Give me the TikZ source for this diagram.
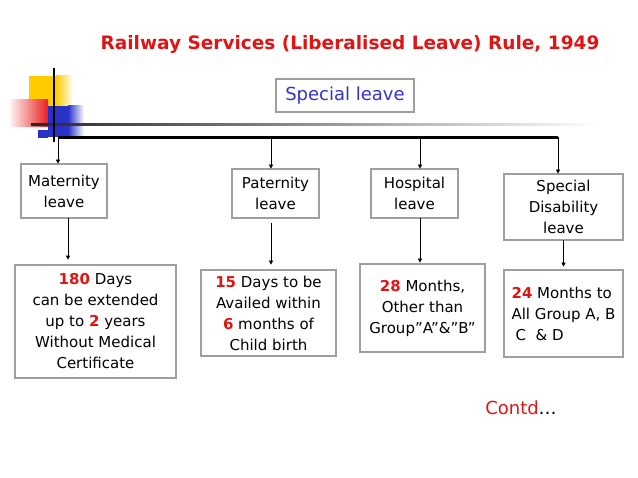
\documentclass[tikz,border=0pt]{standalone}
\usepackage{fontspec}
\setmainfont{DejaVu Sans}
\usepackage{xcolor}
\usepackage{tikz}
\usetikzlibrary{arrows.meta}

\definecolor{rulered}{RGB}{225,20,20}
\definecolor{leaveblue}{RGB}{51,51,204}
\definecolor{sqyellow}{RGB}{255,204,0}
\definecolor{sqblue}{RGB}{40,50,200}
\definecolor{sqred}{RGB}{235,30,30}
\newcommand{\daysnum}[1]{\textcolor{rulered}{\bfseries #1}}

\begin{document}
\begin{tikzpicture}[
  x=1pt, y=-1pt,
  box/.style={draw=black!90, double=gray!75, line width=0.7pt, double distance=1.5pt, inner sep=0pt, align=center, font=\fontsize{15}{21}\selectfont},
  arrow/.style={-{Triangle[length=4pt,width=4pt]}, line width=0.7pt},
  bus/.style={line width=2.3pt}]
\useasboundingbox (0,0) rectangle (638,478);
% corner squares
\fill[sqyellow] (29,76) rectangle (56,106);
\shade[left color=sqyellow, right color=white] (56,76) rectangle (73,106);
\shade[left color=white, right color=sqred] (8,100) rectangle (48,127);
\fill[sqblue] (38,130) rectangle (48,138);
\fill[sqblue] (48,106) rectangle (68,137);
\shade[left color=sqblue, right color=white] (68,106) rectangle (84,137);
\shade[left color=black!85, right color=white] (31,123.2) rectangle (600,125.6);
\draw[line width=2pt] (54,68) -- (54,142);
% title
\node[text=rulered, font=\fontsize{18.5}{22}\selectfont\bfseries] (title) at (350,44) {Railway Services (Liberalised Leave) Rule, 1949};
\node[box, minimum width=138pt, minimum height=33pt, font=\fontsize{18}{22}\selectfont, text=leaveblue] (special) at (345,95.5) {Special leave};
% kinds of leave
\node[box, minimum width=86pt, minimum height=54pt] (maternity) at (64,191) {Maternity\\leave};
\node[box, minimum width=87pt, minimum height=49pt] (paternity) at (275.5,193.5) {Paternity\\leave};
\node[box, minimum width=87pt, minimum height=49pt] (hospital) at (414.5,193.5) {Hospital\\leave};
\node[box, minimum width=119pt, minimum height=66pt] (disability) at (563.5,207) {Special\\Disability\\leave};
% durations
\node[box, minimum width=161pt, minimum height=113pt] (days180) at (95.5,321.5) {\daysnum{180} Days\\can be extended\\up to \daysnum{2} years\\Without Medical\\Certificate};
\node[box, minimum width=135pt, minimum height=86pt] (days15) at (268.5,313) {\daysnum{15} Days to be\\Availed within\\\daysnum{6} months of\\Child birth};
\node[box, minimum width=125pt, minimum height=88pt] (months28) at (422.5,308) {\daysnum{28} Months,\\Other than\\Group”A”\&”B”};
\node[box, minimum width=119pt, minimum height=87pt, align=left] (months24) at (563.5,313.5) {\daysnum{24} Months to\\All Group A, B\\\hspace*{4pt}C\ \ \& D};
\node[font=\fontsize{18}{22}\selectfont] (contd) at (521,408) {\textcolor{rulered}{Contd}…};
% bus line
\coordinate (busL) at (58,137.5);
\coordinate (busP) at (271,137.5);
\coordinate (busH) at (420,137.5);
\coordinate (busR) at (558,137.5);
\draw[bus] (busL) -- (busR);
\draw[arrow] (busL) -- (busL |- maternity.north);
\draw[arrow] (busP) -- (busP |- paternity.north);
\draw[arrow] (busH) -- (busH |- hospital.north);
\draw[arrow] (busR) -- (busR |- disability.north);
% down to durations
\draw[arrow, shorten >=5pt] ([xshift=4pt]maternity.south) -- ([xshift=4pt]maternity.south |- days180.north);
\draw[arrow, shorten <=5pt, shorten >=5pt] ([xshift=-4.5pt]paternity.south) -- ([xshift=-4.5pt]paternity.south |- days15.north);
\draw[arrow, shorten >=1pt] ([xshift=5.5pt]hospital.south) -- ([xshift=5.5pt]hospital.south |- months28.north);
\draw[arrow, shorten >=3pt] (disability.south) -- (disability.south |- months24.north);
\end{tikzpicture}
\end{document}
